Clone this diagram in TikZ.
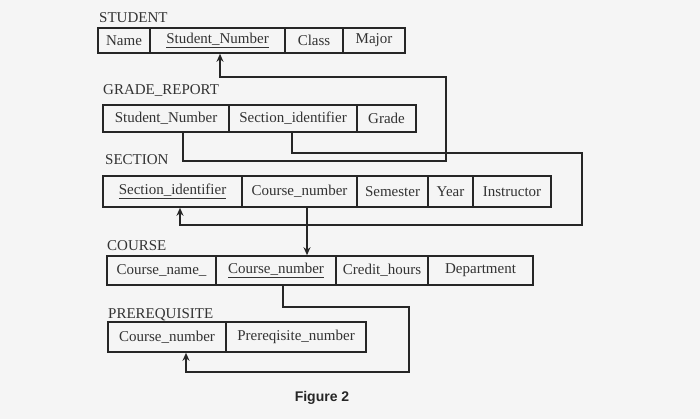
\documentclass[tikz,border=0pt]{standalone}
\usepackage{fontspec}
\setmainfont{Liberation Serif}
\newfontfamily\figfont{Liberation Sans}
\usetikzlibrary{arrows.meta}
\begin{document}
\begin{tikzpicture}[x=1pt,y=-1pt,
  cell/.style={draw=black!85,line width=1.6pt,inner sep=0pt,font=\fontsize{15}{17}\selectfont,text=black!80},
  lbl/.style={anchor=west,inner sep=0pt,font=\fontsize{15}{17}\selectfont,text=black!80},
  con/.style={draw=black!85,line width=1.8pt},
  arr/.style={con,-{Stealth[length=8pt,width=7pt]}}]
\fill[gray!8] (0,0) rectangle (700,419);
\useasboundingbox (0,0) rectangle (700,419);
% STUDENT
\node[lbl] (tS) at (99,18) {STUDENT};
\node[cell,minimum width=52,minimum height=25] (s1) at (124,40.5) {Name};
\node[cell,minimum width=135,minimum height=25] (s2) at (217.5,40.5) {\underline{Student\_Number}};
\node[cell,minimum width=58,minimum height=25] (s3) at (314,40.5) {Class};
\node[cell,minimum width=62,minimum height=25] (s4) at (374,40.5) {Major};
% GRADE_REPORT
\node[lbl] (tG) at (103,91) {GRADE\_REPORT};
\node[cell,minimum width=126,minimum height=27] (g1) at (166,118.5) {Student\_Number};
\node[cell,minimum width=128,minimum height=27] (g2) at (293,118.5) {Section\_identifier};
\node[cell,minimum width=59,minimum height=27] (g3) at (386.5,118.5) {Grade};
% SECTION
\node[lbl] (tSe) at (105,160) {SECTION};
\node[cell,minimum width=139,minimum height=31] (e1) at (172.5,191.5) {\underline{Section\_identifier}};
\node[cell,minimum width=115,minimum height=31] (e2) at (299.5,191.5) {Course\_number};
\node[cell,minimum width=71,minimum height=31] (e3) at (392.5,191.5) {Semester};
\node[cell,minimum width=45,minimum height=31] (e4) at (450.5,191.5) {Year};
\node[cell,minimum width=78,minimum height=31] (e5) at (512,191.5) {Instructor};
% COURSE
\node[lbl] (tC) at (107,246) {COURSE};
\node[cell,minimum width=109,minimum height=29] (c1) at (161.5,270.5) {Course\_name\_};
\node[cell,minimum width=120,minimum height=29] (c2) at (276,270.5) {\underline{Course\_number}};
\node[cell,minimum width=92,minimum height=29] (c3) at (382,270.5) {Credit\_hours};
\node[cell,minimum width=105,minimum height=29] (c4) at (480.5,270.5) {Department};
% PREREQUISITE
\node[lbl] (tP) at (108,315) {PREREQUISITE};
\node[cell,minimum width=118,minimum height=30] (p1) at (167,337) {Course\_number};
\node[cell,minimum width=140,minimum height=30] (p2) at (296,337) {Prereqisite\_number};
% connectors
\coordinate (a1) at (183,161); \coordinate (a2) at (446,161);
\coordinate (a3) at (446,77); \coordinate (a4) at (220,77);
\draw[arr] (g1.south -| a1) -- (a1) -- (a2) -- (a3) -- (a4) -- (s2.south -| a4);
\coordinate (b1) at (292,153); \coordinate (b2) at (582,153);
\coordinate (b3) at (582,225); \coordinate (b4) at (180,225);
\draw[arr] (g2.south -| b1) -- (b1) -- (b2) -- (b3) -- (b4) -- (e1.south -| b4);
\coordinate (d1) at (307,240);
\draw[arr] (e2.south -| d1) -- (c2.north -| d1);
\coordinate (f1) at (283,307); \coordinate (f2) at (409,307);
\coordinate (f3) at (409,372); \coordinate (f4) at (186,372);
\draw[arr] (c2.south -| f1) -- (f1) -- (f2) -- (f3) -- (f4) -- (p1.south -| f4);
\node[font=\figfont\bfseries\fontsize{14}{16}\selectfont,text=black!85] (fig) at (322,398) {Figure 2};
\end{tikzpicture}
\end{document}
